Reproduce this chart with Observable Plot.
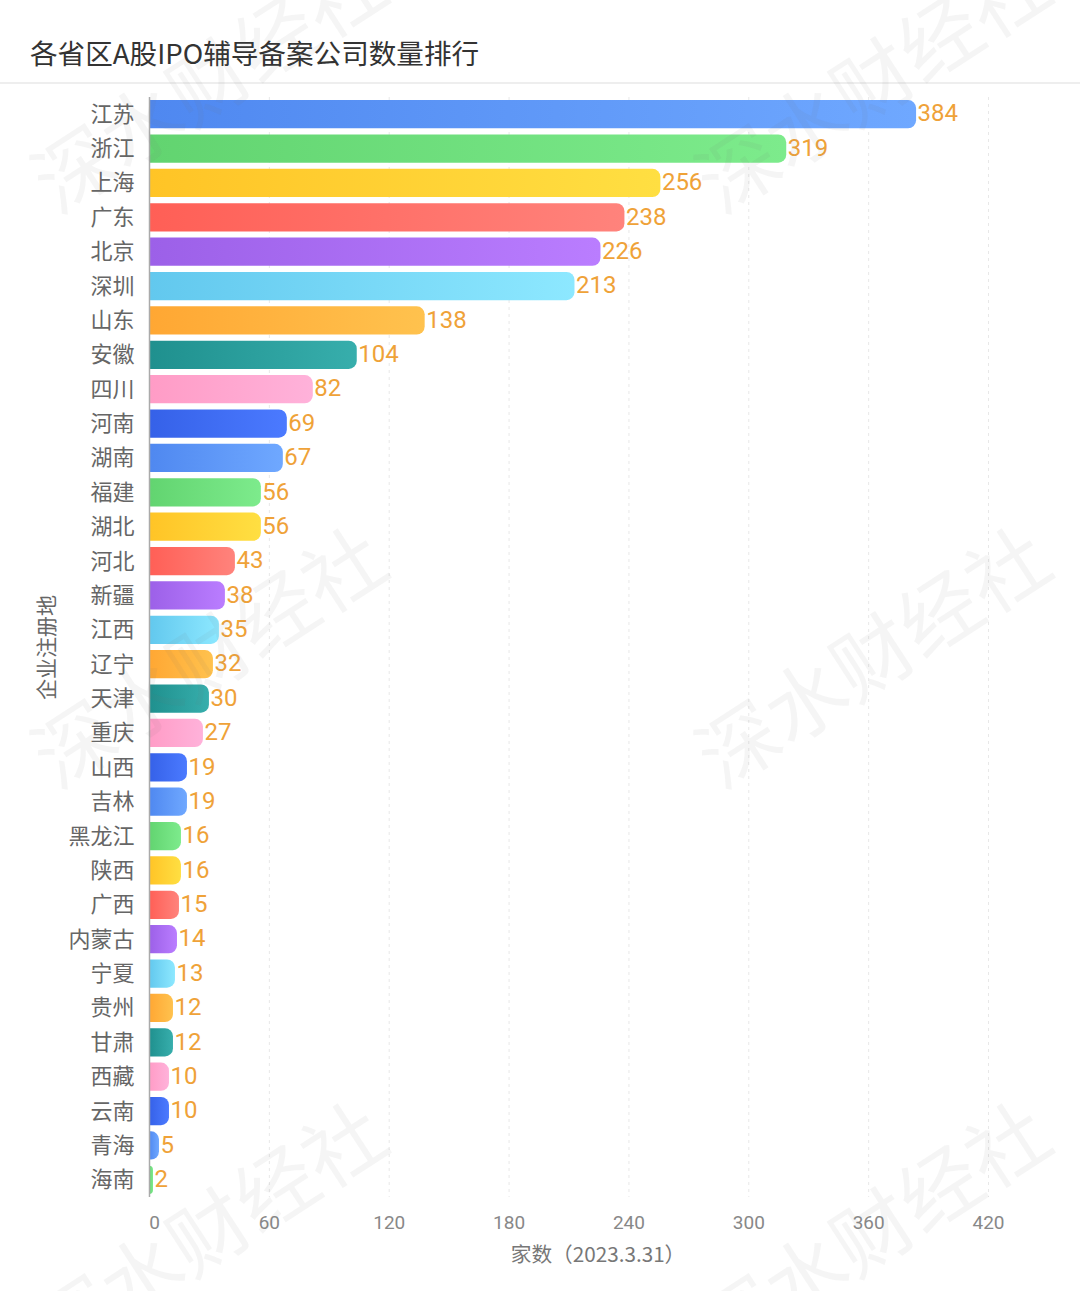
<!DOCTYPE html>
<html lang="zh">
<head>
<meta charset="utf-8">
<script src="https://cdn.jsdelivr.net/npm/d3@7"></script>
<script src="https://cdn.jsdelivr.net/npm/@observablehq/plot@0.6"></script>
<style>
html,body{margin:0;padding:0;background:#fff;width:1080px;height:1291px;overflow:hidden;position:relative;}
#title{box-sizing:border-box;padding:33px 0 0 30px;font:27.6px/38px "Noto Sans CJK SC",sans-serif;color:#333;border-bottom:2px solid #eeeeee;position:relative;height:84px;}
#chart{position:relative;}
.wm{position:absolute;z-index:5;pointer-events:none;font:80px/1 "Noto Sans CJK SC",sans-serif;color:rgba(110,110,110,.07);transform:rotate(-33deg);transform-origin:left bottom;white-space:nowrap;}
svg{display:block;}
</style>
</head>
<body>
<div class="wm" style="left:60px;top:140px">深水财经社</div>
<div class="wm" style="left:724px;top:140px">深水财经社</div>
<div class="wm" style="left:60px;top:715px">深水财经社</div>
<div class="wm" style="left:724px;top:715px">深水财经社</div>
<div class="wm" style="left:60px;top:1290px">深水财经社</div>
<div class="wm" style="left:724px;top:1290px">深水财经社</div>
<div id="title">各省区A股IPO辅导备案公司数量排行</div>
<div id="chart"></div>
<script>
const provinces = ["江苏","浙江","上海","广东","北京","深圳","山东","安徽","四川","河南","湖南","福建","湖北","河北","新疆","江西","辽宁","天津","重庆","山西","吉林","黑龙江","陕西","广西","内蒙古","宁夏","贵州","甘肃","西藏","云南","青海","海南"];
const counts = [384,319,256,238,226,213,138,104,82,69,67,56,56,43,38,35,32,30,27,19,19,16,16,15,14,13,12,12,10,10,5,2];
const xTicks = [60,120,180,240,300,360,420];
const gradientStart = ["#4f88f0","#62d470","#ffc426","#ff5f56","#9c60e8","#62c8ee","#ffa733","#1f908e","#ff9cc6","#3561e8"];
const gradientEnd = ["#6fa8ff","#7deb8c","#ffdf42","#ff837c","#ba7dff","#8de8ff","#ffc24e","#37aeac","#ffb2da","#4b7aff"];

const rows = provinces.map((p, i) => ({p, n: counts[i], g: `url(#grad${i % gradientStart.length})`}));
const cjk = '"Noto Sans CJK SC", sans-serif';
const num = 'Roboto, sans-serif';

const plot = Plot.plot({
  width: 1080,
  height: 1207,
  marginTop: 13,
  marginBottom: 94,
  marginLeft: 149,
  marginRight: 92,
  style: {background: "transparent"},
  x: {domain: [0, 420], axis: null},
  y: {domain: provinces, paddingInner: 0.18, paddingOuter: 0.09, align: 0.5, round: false, axis: null},
  color: {type: "identity"},
  marks: [
    Plot.gridX(xTicks, {stroke: "#e8e8e8", strokeOpacity: 1, strokeDasharray: "3,4"}),
    Plot.barX(rows, {x: "n", y: "p", fill: "g", rx2: 8}),
    Plot.ruleX([0], {stroke: "#aaaaaa", strokeWidth: 1.5}),
    Plot.text(rows, {x: "n", y: "p", text: d => String(d.n), textAnchor: "start", dx: 1, dy: -1, fill: "#efa238", fontSize: 24, fontFamily: num}),
    Plot.axisY({tickSize: 0, tickPadding: 15, label: null, fontSize: 22, fontFamily: cjk, color: "#666666"}),
    Plot.axisX(xTicks, {tickSize: 0, tickPadding: 18, label: null, fontSize: 19, fontFamily: num, color: "#888888"}),
    Plot.axisX([0], {tickSize: 0, tickPadding: 18, label: null, dx: 5, fontSize: 19, fontFamily: num, color: "#888888"}),
    Plot.text(["家数（2023.3.31）"], {frameAnchor: "bottom", textAnchor: "middle", dx: 29, dy: 64, fontSize: 20.7, fontFamily: cjk, fill: "#777777"}),
    Plot.text(["企业注册地"], {frameAnchor: "left", textAnchor: "middle", dx: -102, rotate: -90, fontSize: 21, fontFamily: cjk, fill: "#666666"})
  ]
});

const defs = d3.select(plot).insert("defs", ":first-child");
gradientStart.forEach((c, i) => {
  const g = defs.append("linearGradient").attr("id", `grad${i}`).attr("x1", 0).attr("x2", 1).attr("y1", 0).attr("y2", 0);
  g.append("stop").attr("offset", "0%").attr("stop-color", c);
  g.append("stop").attr("offset", "100%").attr("stop-color", gradientEnd[i]);
});
document.getElementById("chart").appendChild(plot);
</script>
</body>
</html>
